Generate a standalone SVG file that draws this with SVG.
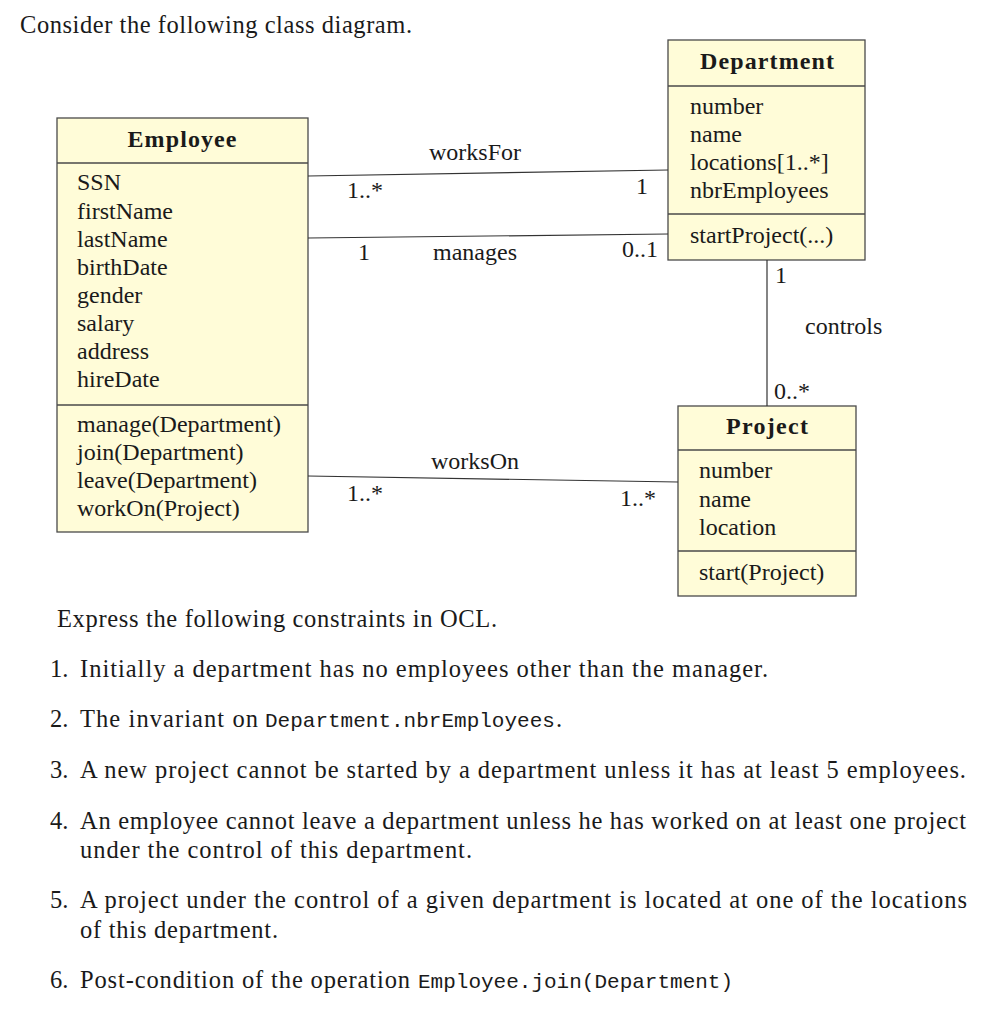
<svg xmlns="http://www.w3.org/2000/svg" width="998" height="1024" viewBox="0 0 998 1024">
<style>
text{font-family:"Liberation Serif","DejaVu Serif",serif;fill:#1a1a1a;font-size:24px}
.t{font-size:24.5px}
.b{font-weight:bold;font-size:24px}
.m{text-anchor:middle}
.mono{font-family:"Liberation Mono","DejaVu Sans Mono",monospace;font-size:21px}
.box{fill:#fffcd8;stroke:#4a4a4a;stroke-width:1.3}
.div{stroke:#4a4a4a;stroke-width:1.3}
.conn line{stroke:#333;stroke-width:1.2}
</style>
<rect width="998" height="1024" fill="#fff"/>
<text class="t" x="20" y="33" textLength="392">Consider the following class diagram.</text>

<g id="employee">
<rect class="box" x="57" y="118" width="251" height="414"/>
<line class="div" x1="57" y1="163" x2="308" y2="163"/>
<line class="div" x1="57" y1="405" x2="308" y2="405"/>
<text class="b m" x="182" y="147" textLength="109">Employee</text>
<text x="77" y="190">SSN</text>
<text x="77" y="219">firstName</text>
<text x="77" y="247">lastName</text>
<text x="77" y="275">birthDate</text>
<text x="77" y="303">gender</text>
<text x="77" y="331">salary</text>
<text x="77" y="359">address</text>
<text x="77" y="387">hireDate</text>
<text x="77" y="432">manage(Department)</text>
<text x="77" y="460">join(Department)</text>
<text x="77" y="488">leave(Department)</text>
<text x="77" y="516">workOn(Project)</text>
</g>

<g id="department">
<rect class="box" x="668" y="40" width="197" height="220"/>
<line class="div" x1="668" y1="86" x2="865" y2="86"/>
<line class="div" x1="668" y1="214" x2="865" y2="214"/>
<text class="b m" x="767" y="69" textLength="134">Department</text>
<text x="690" y="114">number</text>
<text x="690" y="142">name</text>
<text x="690" y="170">locations[1..*]</text>
<text x="690" y="198">nbrEmployees</text>
<text x="690" y="243">startProject(...)</text>
</g>

<g id="project">
<rect class="box" x="678" y="406" width="178" height="190"/>
<line class="div" x1="678" y1="450" x2="856" y2="450"/>
<line class="div" x1="678" y1="551" x2="856" y2="551"/>
<text class="b m" x="767" y="434" textLength="82">Project</text>
<text x="699" y="478">number</text>
<text x="699" y="507">name</text>
<text x="699" y="535">location</text>
<text x="699" y="580">start(Project)</text>
</g>

<g class="conn" id="connectors">
<line x1="308" y1="176" x2="668" y2="170"/>
<line x1="308" y1="238" x2="668" y2="234"/>
<line x1="308" y1="476" x2="678" y2="482"/>
<line x1="767" y1="260" x2="767" y2="406"/>
<text class="m" x="475" y="160">worksFor</text>
<text x="347" y="198">1..*</text>
<text x="636" y="194">1</text>
<text x="358" y="260">1</text>
<text class="m" x="475" y="260">manages</text>
<text x="622" y="257">0..1</text>
<text x="775" y="283">1</text>
<text x="805" y="334">controls</text>
<text x="774" y="399">0..*</text>
<text class="m" x="475" y="469">worksOn</text>
<text x="347" y="501">1..*</text>
<text x="620" y="506">1..*</text>
</g>

<g id="constraints">
<text class="t" x="57" y="627" textLength="440">Express the following constraints in OCL.</text>
<text class="t" x="50" y="677">1.</text>
<text class="t" x="80" y="677" textLength="688">Initially a department has no employees other than the manager.</text>
<text class="t" x="50" y="727">2.</text>
<text class="t" x="80" y="727" textLength="178">The invariant on</text>
<text class="mono" x="265" y="727">Department.nbrEmployees</text>
<text class="t" x="556" y="727">.</text>
<text class="t" x="50" y="778">3.</text>
<text class="t" x="80" y="778" textLength="886">A new project cannot be started by a department unless it has at least 5 employees.</text>
<text class="t" x="50" y="829">4.</text>
<text class="t" x="80" y="829" textLength="886">An employee cannot leave a department unless he has worked on at least one project</text>
<text class="t" x="80" y="858" textLength="392">under the control of this department.</text>
<text class="t" x="50" y="908">5.</text>
<text class="t" x="80" y="908" textLength="887">A project under the control of a given department is located at one of the locations</text>
<text class="t" x="80" y="938" textLength="198">of this department.</text>
<text class="t" x="50" y="988">6.</text>
<text class="t" x="80" y="988" textLength="330">Post-condition of the operation</text>
<text class="mono" x="418" y="988">Employee.join(Department)</text>
</g>
</svg>
